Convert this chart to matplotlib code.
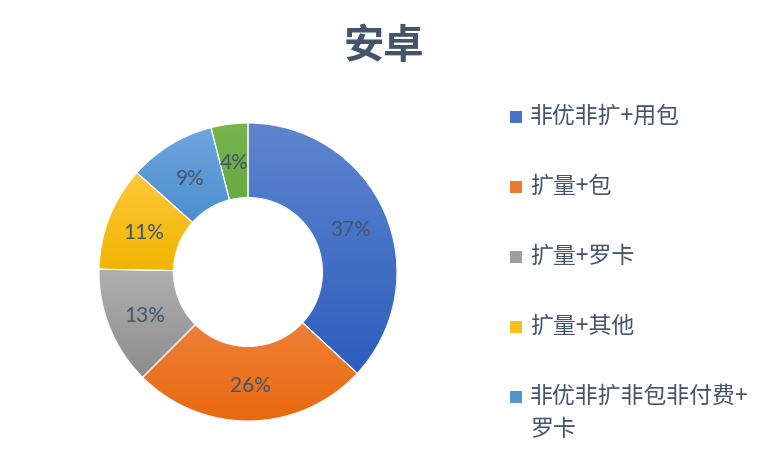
import matplotlib
matplotlib.use("Agg")
import matplotlib.pyplot as plt
import numpy as np
from matplotlib.patches import Rectangle, Wedge
import matplotlib.colors as mcolors

plt.rcParams['font.family'] = ['Noto Sans CJK SC', 'DejaVu Sans']

title = "安卓"
categories = ["非优非扩+用包", "扩量+包", "扩量+罗卡", "扩量+其他", "非优非扩非包非付费+\n罗卡", "其他"]
values = [36.9, 25.6, 12.8, 11.3, 9.4, 4.0]   # percent
colors_top = ["#5E86CF", "#F28C4E", "#B0B0B0", "#FFC83A", "#6EA6DE", "#78B450"]
colors_bot = ["#2D5EBE", "#E8690F", "#8C8C8C", "#F0B400", "#3C82C8", "#5AA032"]
legend_count = 5  # only the first five entries are visible in the legend

text_color = "#44546A"

fig = plt.figure(figsize=(7.74, 4.68), dpi=100)
W, H = 774, 468

cx, cy, R = 248, 272, 149
ax = fig.add_axes([(cx - R) / W, 1 - (cy + R) / H, 2 * R / W, 2 * R / H])
wedges, _ = ax.pie(values, startangle=90, counterclock=False, radius=1.0,
                   colors=colors_bot,
                   wedgeprops=dict(width=0.5, edgecolor="none", linewidth=0))
ax.set_xlim(-1, 1)
ax.set_ylim(-1, 1)
ax.set_aspect('equal')
ax.axis('off')

# vertical gradient fill per wedge (lighter on top, darker at bottom)
for w, ct, cb in zip(wedges, colors_top, colors_bot):
    verts = w.get_path().vertices
    x0, x1 = verts[:, 0].min(), verts[:, 0].max()
    y0, y1 = verts[:, 1].min(), verts[:, 1].max()
    t = np.linspace(0, 1, 256)[:, None]
    c1 = np.array(mcolors.to_rgb(ct))
    c2 = np.array(mcolors.to_rgb(cb))
    grad = (c1[None, :] * (1 - t) + c2[None, :] * t)[:, None, :]
    im = ax.imshow(grad, extent=[x0, x1, y0, y1], origin='upper', aspect='auto',
                   interpolation='bilinear', zorder=2)
    im.set_clip_path(w)

# thin white separators on top
for w in wedges:
    ax.add_patch(Wedge(w.center, w.r, w.theta1, w.theta2, width=w.width,
                       facecolor='none', edgecolor='white', linewidth=0.8, zorder=5))

# percentage labels at mid-ring
for w, v in zip(wedges, values):
    ang = np.deg2rad((w.theta1 + w.theta2) / 2)
    rr = 0.75
    ax.text(rr * np.cos(ang), rr * np.sin(ang) - 0.015, f"{v:.0f}%",
            ha='center', va='center', fontsize=15, color=text_color,
            family=['Lato', 'DejaVu Sans'], zorder=6)
ax.set_xlim(-1, 1)
ax.set_ylim(-1, 1)

fig.text(384 / W, 1 - 46 / H, title, ha='center', va='center', fontsize=29,
         fontweight='bold', color=text_color)

# legend
row_y = [117, 187, 257, 327, 397]
for i in range(legend_count):
    y = row_y[i]
    mid = (np.array(mcolors.to_rgb(colors_top[i])) + np.array(mcolors.to_rgb(colors_bot[i]))) / 2
    fig.patches.append(Rectangle((510 / W, 1 - (y + 6) / H), 12 / W, 12 / H,
                                 transform=fig.transFigure, facecolor=mid,
                                 edgecolor='none'))
    fig.text(530 / W, 1 - (y - 12.5) / H, categories[i], ha='left', va='top',
             fontsize=16.5, color=text_color, linespacing=1.6)

fig.savefig("out.png", dpi=100, facecolor='white')
